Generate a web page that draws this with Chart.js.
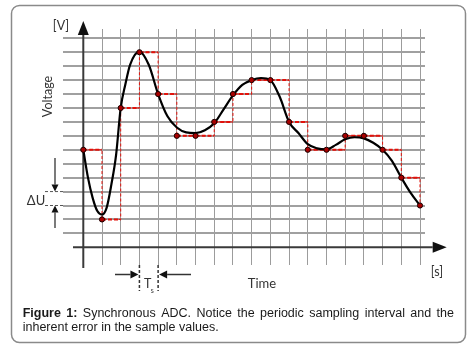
<!DOCTYPE html>
<html><head><meta charset="utf-8">
<script src="https://cdn.jsdelivr.net/npm/chart.js@4.4.0/dist/chart.umd.min.js"></script>
<style>html,body{margin:0;padding:0;background:#fff;}canvas{display:block;}</style>
</head><body>
<canvas id="c" width="474" height="357"></canvas>
<script>
// ---- data ----
const sampleTimes  = [0,1,2,3,4,5,6,7,8,9,10,11,12,13,14,15,16,17,18];
const sampleValues = [7,2,10,14,11,8,8,9,11,12,12,9,7,7,8,8,7,5,3];
const signalTimes  = [0,0.25,0.5,0.75,1,1.25,1.5,1.75,2,2.25,2.5,3,3.5,4,4.5,5,5.5,6,6.5,7,7.5,8,8.5,9,9.5,10,10.5,11,11.5,12,12.5,13,13.5,14,14.5,15,15.5,16,16.5,17,17.5,18];
const signalValues = [7,5.0,3.55,2.6,2.35,2.85,4.5,6.6,10,11.7,13.1,14.05,13.1,11,9.4,8.6,8.25,8.2,8.4,8.9,9.9,10.9,11.65,12,12.15,12,10.8,9.0,8.2,7.4,7.1,7.03,7.35,7.75,7.9,7.82,7.5,7.0,6.2,5.0,3.9,3.0];
const xTicks = [1,2,3,4,5,6,7,8,9,10,11,12,13,14,15,16,17,18];
const yTicks = [1,2,3,4,5,6,7,8,9,10,11,12,13,14,15];
const yAxisUnit = '[V]', yAxisTitle = 'Voltage', xAxisUnit = '[s]', xAxisTitle = 'Time';
const deltaLabel = 'ΔU';
const captionBold = 'Figure 1:';
const captionLine1 = 'Synchronous ADC. Notice the periodic sampling interval and the';
const captionLine2 = 'inherent error in the sample values.';

// ---- tables built from the arrays ----
const sampleData = sampleTimes.map((t,i)=>({x:t,y:sampleValues[i]}));
const signalData = signalTimes.map((t,i)=>({x:t,y:signalValues[i]}));
const holdData = [];
for (let i=0;i<sampleTimes.length-1;i++){
  holdData.push({x:sampleTimes[i],y:sampleValues[i]});
  holdData.push({x:sampleTimes[i+1],y:sampleValues[i]});
  holdData.push({x:sampleTimes[i+1],y:null});
}

function arrow(ctx, x1,y1,x2,y2, len, half){
  const a=Math.atan2(y2-y1,x2-x1);
  const bx=x2-len*Math.cos(a), by=y2-len*Math.sin(a);
  ctx.beginPath(); ctx.moveTo(x1,y1); ctx.lineTo(bx,by); ctx.stroke();
  ctx.beginPath(); ctx.moveTo(x2,y2);
  ctx.lineTo(bx+half*Math.sin(a), by-half*Math.cos(a));
  ctx.lineTo(bx-half*Math.sin(a), by+half*Math.cos(a));
  ctx.closePath(); ctx.fill();
}

const decor = {
  id:'decor',
  beforeDatasetsDraw(chart){
    const {ctx, scales:{x,y}} = chart;
    const x0=x.getPixelForValue(0), y0=y.getPixelForValue(0);
    ctx.save();
    ctx.strokeStyle='#3a3a3a'; ctx.fillStyle='#111'; ctx.lineWidth=2;
    arrow(ctx, 73, y0, 446.7, y0, 14, 5.5);
    arrow(ctx, x0, 268, x0, 21, 14, 5.5);
    ctx.restore();
  },
  afterDraw(chart){
    const {ctx, scales:{x,y}} = chart;
    ctx.save();
    // frame
    ctx.strokeStyle='#8a8a8a'; ctx.lineWidth=1.5;
    ctx.beginPath(); ctx.roundRect(11.5,5.5,454,337,8); ctx.stroke();
    // axis labels
    ctx.fillStyle='#333'; ctx.textAlign='center'; ctx.textBaseline='middle';
    ctx.font='12.5px Lato';
    ctx.fillText(yAxisUnit, 61, 25.5);
    ctx.fillText(xAxisUnit, 437, 271.5);
    ctx.font='13px Lato';
    ctx.fillText(xAxisTitle, 262, 283.5);
    ctx.fillText(deltaLabel, 36, 200.5);
    ctx.save(); ctx.translate(48,96.5); ctx.rotate(-Math.PI/2);
    ctx.font='12.5px Lato'; ctx.fillText(yAxisTitle,0,0); ctx.restore();
    // delta U annotation
    const yA=y.getPixelForValue(4), yB=y.getPixelForValue(3);
    ctx.strokeStyle='#555'; ctx.lineWidth=1; ctx.setLineDash([3,2]);
    ctx.beginPath(); ctx.moveTo(45,yA); ctx.lineTo(63,yA); ctx.moveTo(45,yB); ctx.lineTo(63,yB); ctx.stroke();
    ctx.setLineDash([]);
    ctx.strokeStyle='#222'; ctx.fillStyle='#111'; ctx.lineWidth=1.2;
    arrow(ctx, 55, 158, 55, yA, 7, 3.5);
    arrow(ctx, 55, 228, 55, yB, 7, 3.5);
    // Ts annotation
    const xA=x.getPixelForValue(3), xB=x.getPixelForValue(4);
    ctx.strokeStyle='#333'; ctx.lineWidth=1.5; ctx.setLineDash([3,2]);
    ctx.beginPath(); ctx.moveTo(xA,265); ctx.lineTo(xA,291); ctx.moveTo(xB,265); ctx.lineTo(xB,291); ctx.stroke();
    ctx.setLineDash([]);
    ctx.strokeStyle='#333'; ctx.lineWidth=1.5;
    arrow(ctx, 115, 274.5, xA-1, 274.5, 8, 4);
    arrow(ctx, 191, 274.5, xB+1, 274.5, 8, 4);
    ctx.fillStyle='#333'; ctx.font='12.5px Lato';
    ctx.fillText('T', (xA+xB)/2-1, 283.5);
    ctx.font='7px Lato'; ctx.fillText('s', (xA+xB)/2+3.5, 291);
    // caption
    ctx.fillStyle='#1a1a1a'; ctx.textAlign='left'; ctx.textBaseline='alphabetic';
    const left=22.7, right=454;
    const words=[{t:'Figure',b:true},{t:'1:',b:true}].concat(captionLine1.split(' ').map(t=>({t,b:false})));
    let sum=0;
    words.forEach(w=>{ctx.font=(w.b?'bold ':'')+'12.5px "Liberation Sans"'; w.w=ctx.measureText(w.t).width; sum+=w.w;});
    const gap=(right-left-sum)/(words.length-1);
    let cx=left;
    words.forEach(w=>{ctx.font=(w.b?'bold ':'')+'12.5px "Liberation Sans"'; ctx.fillText(w.t,cx,316.5); cx+=w.w+gap;});
    ctx.font='12.5px "Liberation Sans"';
    ctx.fillText(captionLine2,left,331);
    ctx.restore();
  }
};

new Chart(document.getElementById('c').getContext('2d'), {
  type:'line',
  data:{datasets:[
    {label:'hold', data:holdData, borderColor:'#e3120b', borderWidth:2, borderDash:[4,2], pointRadius:0, spanGaps:false, tension:0, order:3},
    {label:'steps', data:sampleData, stepped:true, borderColor:'#e3120b', borderWidth:1, borderDash:[3,2], pointRadius:0, order:4},
    {label:'signal', data:signalData, borderColor:'#000', borderWidth:2.2, pointRadius:0, cubicInterpolationMode:'monotone', order:2},
    {label:'samples', data:sampleData, showLine:false, pointRadius:2.6, pointBackgroundColor:'#a80000', pointBorderColor:'#1a0000', pointBorderWidth:1, order:1}
  ]},
  options:{
    responsive:false, animation:false, devicePixelRatio:1,
    layout:{padding:{left:63.3,right:49,top:29,bottom:92}},
    plugins:{legend:{display:false}, tooltip:{enabled:false}},
    scales:{
      x:{type:'linear', min:-1.069, max:18.267,
         afterBuildTicks:s=>{s.ticks=xTicks.map(v=>({value:v}));},
         ticks:{display:false},
         grid:{color:'#9c9c9c', lineWidth:1, borderDash:[3,2], drawTicks:false},
         border:{display:false}},
      y:{type:'linear', min:-1.27, max:15.667,
         afterBuildTicks:s=>{s.ticks=yTicks.map(v=>({value:v}));},
         ticks:{display:false},
         grid:{color:'#a0a0a0', lineWidth:2, borderDash:[8,2], drawTicks:false},
         border:{display:false}}
    }
  },
  plugins:[decor]
});
</script>
</body></html>
